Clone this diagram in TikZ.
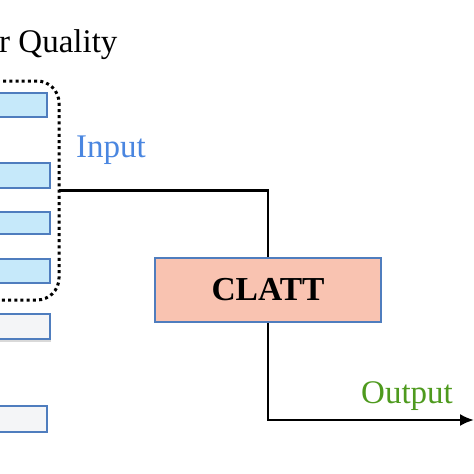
\documentclass[tikz,border=0pt]{standalone}
\usepackage{fontspec}
\setmainfont{Liberation Serif}
\usepackage{tikz}
\usetikzlibrary{positioning, arrows.meta, calc, shadows}

\definecolor{barblue}{HTML}{C6E9FA}
\definecolor{bargrey}{HTML}{F4F5F7}
\definecolor{edgeblue}{HTML}{4F7DBE}
\definecolor{salmon}{HTML}{F9C3B1}
\definecolor{inblue}{HTML}{4A86E0}
\definecolor{outgreen}{HTML}{4E9A1E}

\begin{document}
\begin{tikzpicture}[x=1pt, y=-1pt]
	% Define styles
	\tikzset{
		bar/.style={rectangle, draw=edgeblue, line width=2.2pt, fill=barblue, minimum width=90pt, inner sep=0pt, anchor=east},
		greybar/.style={bar, fill=bargrey},
		model/.style={rectangle, draw=edgeblue, line width=1.6pt, fill=salmon, minimum width=226pt, minimum height=64pt, font=\fontsize{33.5}{36}\selectfont\bfseries},
		label/.style={inner sep=0pt, anchor=base west, font=\fontsize{33}{36}\selectfont},
		line/.style={draw, line width=2.2pt}
	}
	\useasboundingbox (0,0) rectangle (474,474);
	
	% Nodes
	\node[label] (title) at (-1,52) {r Quality};
	
	\node[bar, minimum height=24pt] (b1) at (48,105) {};
	\node[bar, minimum height=25pt] (b2) at (51,175.5) {};
	\node[bar, minimum height=22pt] (b3) at (51,223) {};
	\node[bar, minimum height=24pt] (b4) at (51,271) {};
	\node[greybar, minimum height=25pt, drop shadow={shadow xshift=1.5pt, shadow yshift=-2.5pt, opacity=0.3}] (b5) at (51,326.5) {};
	\node[greybar, minimum height=26pt] (b6) at (48,419) {};
	
	\draw[line width=3pt, dash pattern=on 3pt off 3.2pt, rounded corners=22pt] (-40,81) rectangle (59,300);
	\coordinate (group) at (59,190.5);
	
	\node[label, text=inblue] (input) at (76,157) {Input};
	\node[model] (clatt) at (268,290) {CLATT};
	\node[label, text=outgreen] (output) at (361,403) {Output};
	\coordinate (out) at (474,420);
	
	% Arrows
	\draw[line] (group) -| (clatt.north);
	\draw[line, -{Latex[length=14pt, width=12pt]}] (clatt.south) |- (out);
	
\end{tikzpicture}
\end{document}
